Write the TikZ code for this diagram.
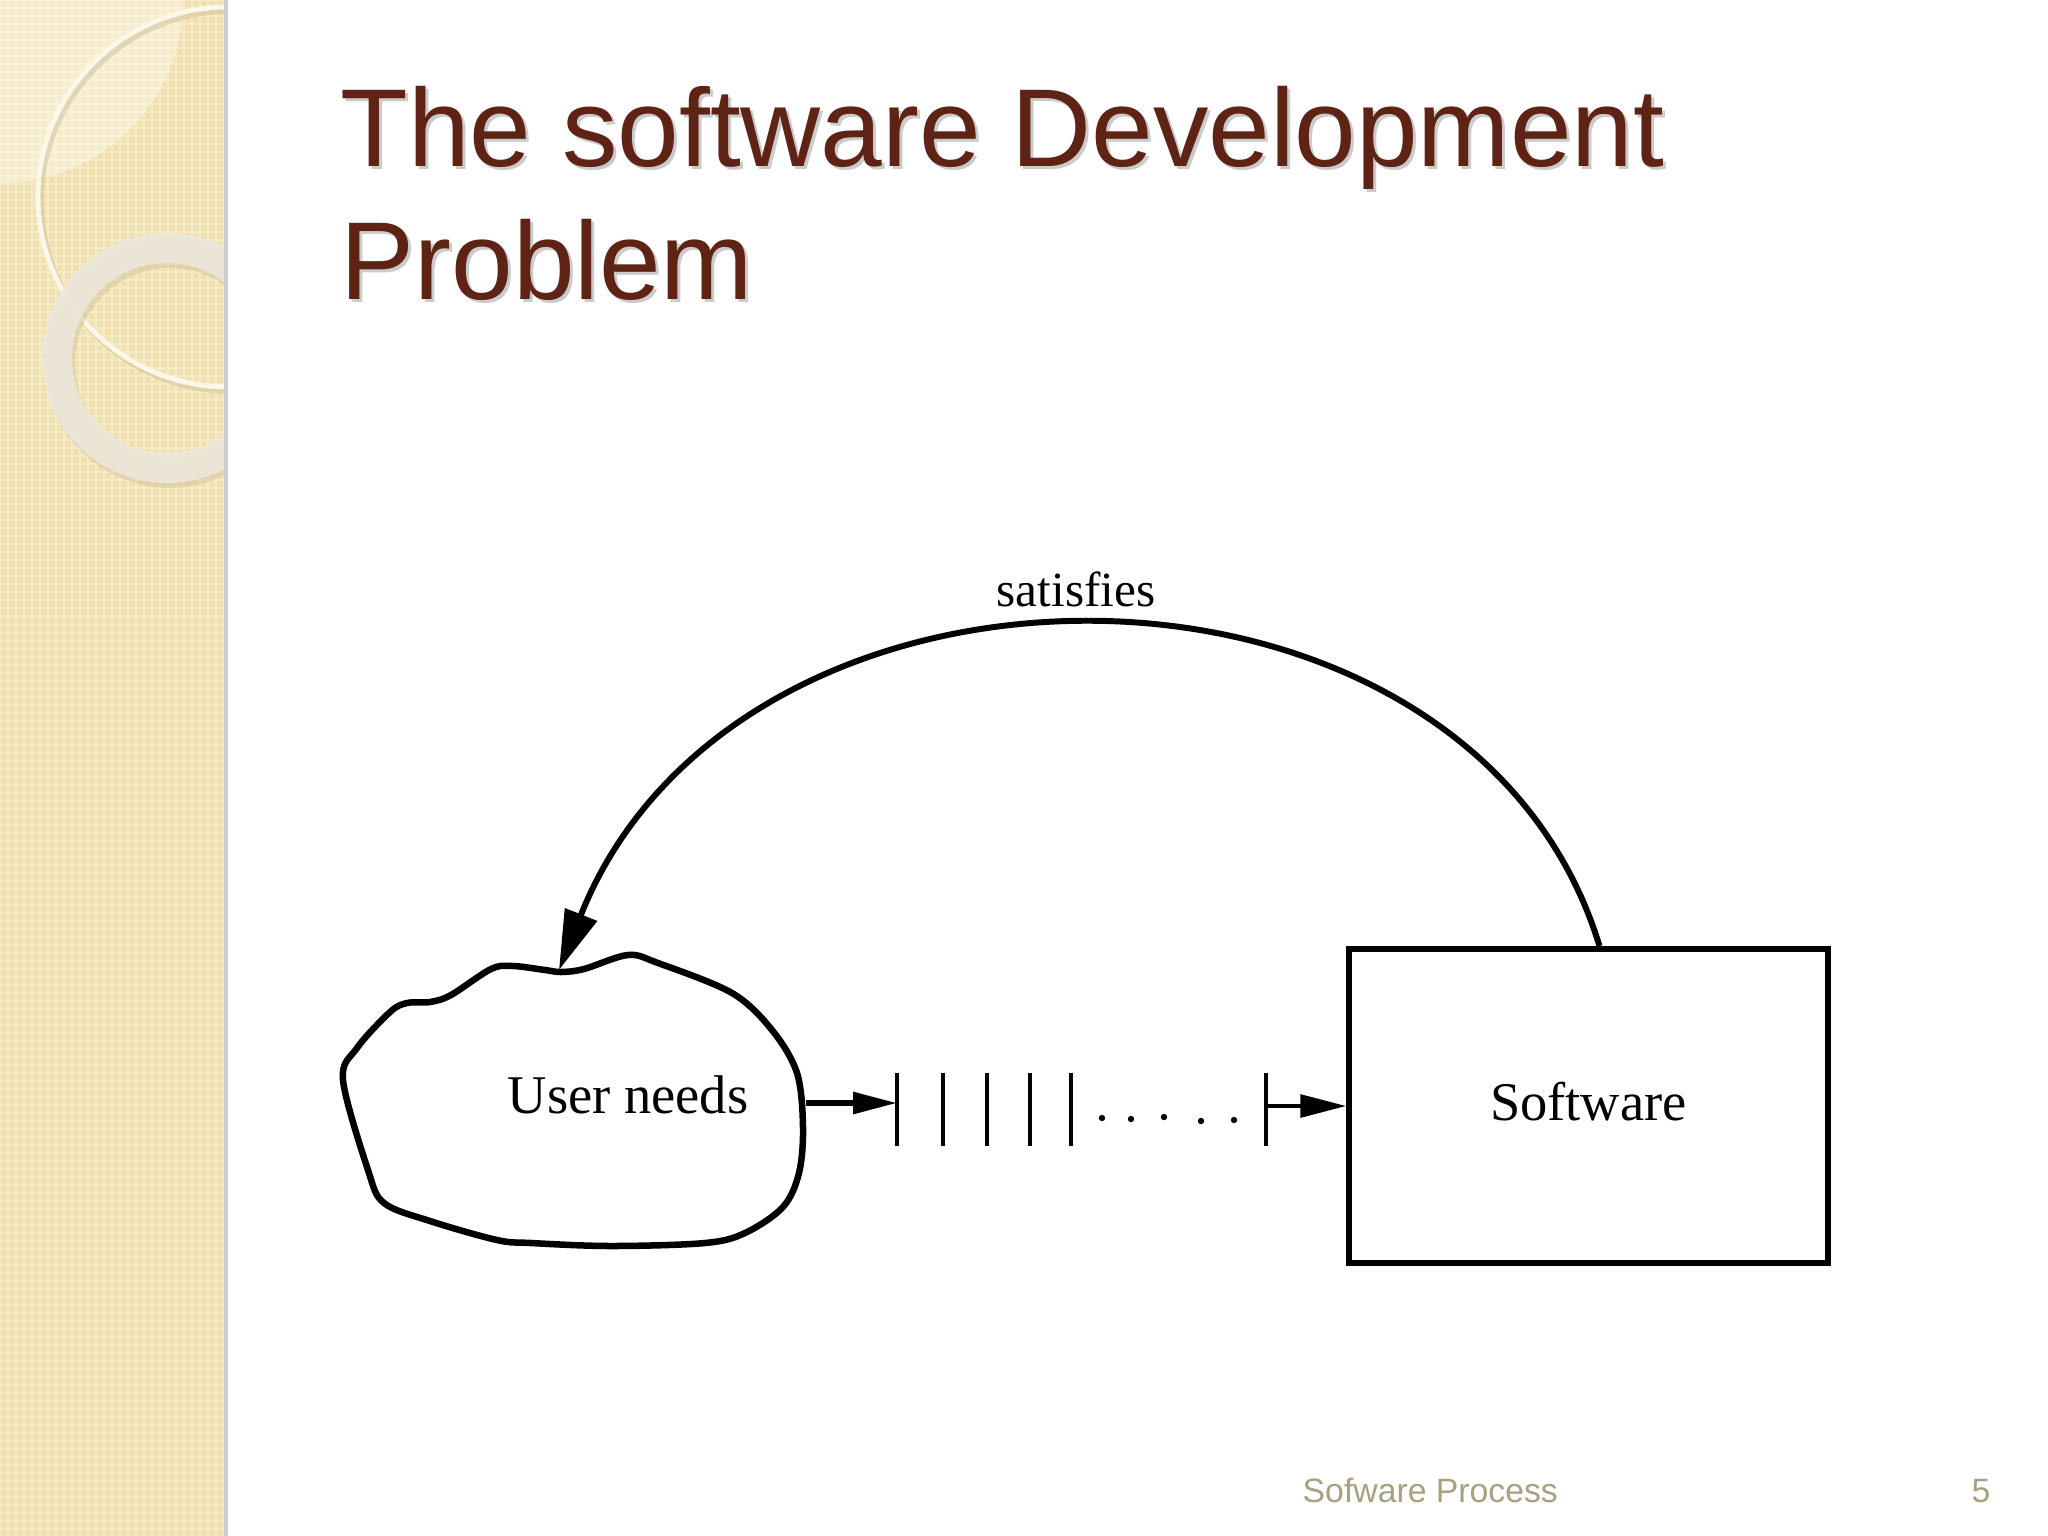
\documentclass[tikz,border=0pt]{standalone}
\usepackage{fontspec}
\setmainfont{Liberation Serif}
\newfontfamily\arialfont{Liberation Sans}
\usetikzlibrary{arrows.meta,calc}
\definecolor{titlecol}{RGB}{94,35,20}
\definecolor{footcol}{RGB}{168,160,128}
\definecolor{stripcol}{RGB}{242,225,176}
\definecolor{stripline}{RGB}{247,236,200}
\definecolor{ringthin}{RGB}{252,247,232}
\definecolor{ringthick}{RGB}{236,232,222}
\definecolor{ringshadow}{RGB}{205,190,150}
\tikzset{
  titletext/.style={anchor=base west, inner sep=0pt, text=titlecol, font=\arialfont\fontsize{31.5}{37.8}\selectfont},
  titleshadow/.style={anchor=base west, inner sep=0pt, text=black!45, opacity=0.45, font=\arialfont\fontsize{31.5}{37.8}\selectfont},
  difont/.style={font=\fontsize{15.5}{18}\selectfont},
  cloudline/.style={line width=1.85pt, line join=round},
  boxstyle/.style={draw, line width=1.6pt, minimum width=4.79cm, minimum height=3.14cm, inner sep=0pt, difont},
  barline/.style={line width=0.9pt},
  footstyle/.style={anchor=base west, inner sep=0pt, text=footcol, font=\arialfont\fontsize{9.6}{11}\selectfont}
}
\begin{document}
\begin{tikzpicture}[x=0.01cm,y=-0.01cm]
\useasboundingbox (0,0) rectangle (2048,1536);
\fill[white] (0,0) rectangle (2048,1536);
% left decorative strip
\fill[stripcol] (0,0) rectangle (226,1536);
\draw[stripline, line width=0.5pt, step=0.08cm] (0,0) grid (226,1536);
\begin{scope}
  \clip (0,0) rectangle (226,1536);
  \fill[white, opacity=0.35] (0,0) circle[radius=183];
  \draw[ringshadow, opacity=0.5, line width=1.6pt] (231,201) circle[radius=190];
  \draw[ringthin, line width=1.4pt] (228,197) circle[radius=190];
  \draw[ringshadow, opacity=0.45, line width=8.5pt] (170,363) circle[radius=110];
  \draw[ringthick, opacity=0.85, line width=8.5pt] (167,358) circle[radius=110];
\end{scope}
\draw[black!20, line width=1pt] (226,0) -- (226,1536);
% title
\node[titleshadow] (t1s) at (343,169) {The software Development};
\node[titleshadow] (t2s) at (343,302) {Problem};
\node[titletext] (t1) at (340,166) {The software Development};
\node[titletext] (t2) at (340,299) {Problem};
% cloud
\draw[cloudline] plot[smooth cycle, tension=0.55] coordinates {
  (561,972) (584,969) (628,955) (658,963) (732,993) (772,1030) (797,1073)
  (803,1127) (799,1173) (783,1207) (745,1233) (705,1243) (611,1246)
  (531,1243) (497,1240) (430,1221) (384,1203) (368,1170) (343,1080)
  (357,1048) (390,1012) (407,1003) (430,1002) (451,995) (491,969)
  (513,966) (545,970)};
\node[difont, anchor=base west, inner sep=0pt] (un) at (507,1113) {User needs};
\coordinate (cloudtop) at (559,970);
\coordinate (cloudright) at (806,1103);
% software box
\node[boxstyle] (sw) at (1588.5,1106) {\raisebox{2.6pt}{Software}};
% satisfies arc
\node[font=\fontsize{14}{16}\selectfont, anchor=base west, inner sep=0pt] (sat) at (996,606) {satisfies};
\draw[line width=1.7pt, -{Triangle[length=17pt,width=9.5pt]}]
  ($(sw.north)+(11,0)$) .. controls (1470,520) and (740,515) .. (cloudtop);
% chain of bars
\coordinate (b1) at (897,1110);
\coordinate (b2) at (943,1110);
\coordinate (b3) at (987,1110);
\coordinate (b4) at (1030,1110);
\coordinate (b5) at (1071,1110);
\coordinate (b6) at (1266,1110);
\foreach \b in {b1,b2,b3,b4,b5,b6}
  \draw[barline] ($(\b)+(0,-37)$) -- ($(\b)+(0,36)$);
\foreach \dx/\dy in {1102/1118,1131/1119,1164/1117,1201/1121,1234/1120}
  \fill (\dx,\dy) circle[radius=3.2];
\draw[line width=1.6pt, -{Triangle[length=12.5pt,width=6pt]}] (cloudright) -- (cloudright -| b1);
\draw[line width=0.95pt, -{Triangle[length=13pt,width=6.5pt]}] (b6 |- sw.west) -- (sw.west);
% footer
\node[footstyle] (foot) at (1302,1502) {Sofware Process};
\node[footstyle] (pg) at (1971,1502) {5};
\end{tikzpicture}
\end{document}
